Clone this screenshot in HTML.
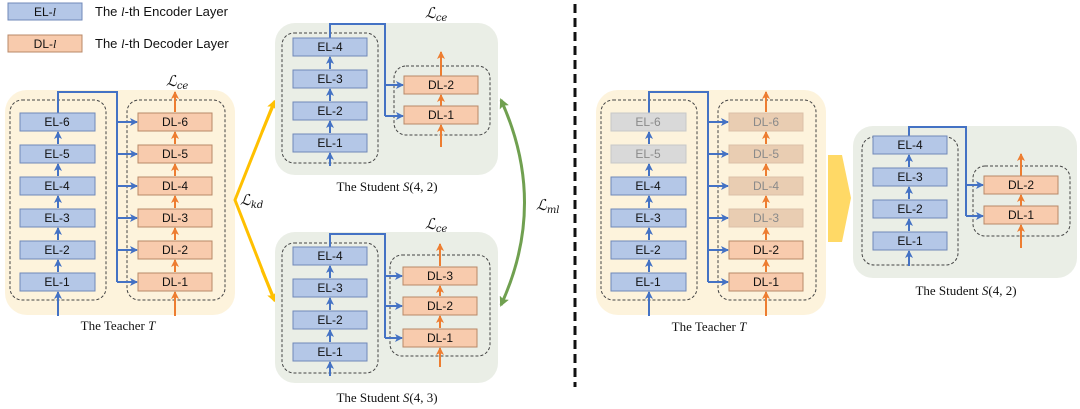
<!DOCTYPE html>
<html><head><meta charset="utf-8"><style>
html,body{margin:0;padding:0;background:#fff;}
svg{display:block}
.el{fill:#b4c7e7;stroke:#7088b8;stroke-width:1}
.dl{fill:#f8cbad;stroke:#b88868;stroke-width:1}
.gr{fill:#d9d9d9;stroke:#c8c8c8;stroke-width:1}
.fd{fill:#e9cdb2;stroke:#dcc0a8;stroke-width:1}
.bt{font-family:"Liberation Sans","DejaVu Sans",sans-serif;font-size:12px;text-anchor:middle;fill:#111}
.ft{fill:#8a8a8a}
.dash{fill:none;stroke:#444;stroke-width:1;stroke-dasharray:3 2}
.bl{stroke:#4472c4;stroke-width:2;fill:none}
.or{stroke:#ed7d31;stroke-width:2;fill:none}
.cap{font-family:"Liberation Serif","DejaVu Serif",serif;font-size:13px;text-anchor:middle;fill:#111}
.L{font-family:"DejaVu Serif","Liberation Serif",serif;font-style:italic;font-size:15px;fill:#111}
.sub{font-size:10px}
</style></head><body>
<svg width="1080" height="409" viewBox="0 0 1080 409" xmlns="http://www.w3.org/2000/svg">
<defs>
<marker id="ab" markerWidth="8" markerHeight="8" refX="7" refY="4" orient="auto" markerUnits="userSpaceOnUse"><path d="M0,0 L8,4 L0,8 L2,4 z" fill="#4472c4"/></marker>
<marker id="ao" markerWidth="8" markerHeight="8" refX="7" refY="4" orient="auto" markerUnits="userSpaceOnUse"><path d="M0,0 L8,4 L0,8 L2,4 z" fill="#ed7d31"/></marker>
<marker id="ay" markerWidth="10" markerHeight="10" refX="8" refY="5" orient="auto" markerUnits="userSpaceOnUse"><path d="M0,0 L10,5 L0,10 L2,5 z" fill="#ffc000"/></marker>
<marker id="ag" markerWidth="10" markerHeight="10" refX="8" refY="5" orient="auto-start-reverse" markerUnits="userSpaceOnUse"><path d="M0,0 L10,5 L0,10 L2,5 z" fill="#70a050"/></marker>
</defs>

<!-- Legend -->
<rect class="el" x="8" y="3" width="74" height="17"/>
<text class="bt" x="45" y="16">EL-<tspan font-style="italic" font-family="Liberation Serif">l</tspan></text>
<text x="95" y="16" font-family="Liberation Sans,sans-serif" font-size="13" fill="#111">The <tspan font-style="italic" font-family="Liberation Serif">l</tspan>-th Encoder Layer</text>
<rect class="dl" x="8" y="35" width="74" height="17"/>
<text class="bt" x="45" y="48">DL-<tspan font-style="italic" font-family="Liberation Serif">l</tspan></text>
<text x="95" y="48" font-family="Liberation Sans,sans-serif" font-size="13" fill="#111">The <tspan font-style="italic" font-family="Liberation Serif">l</tspan>-th Decoder Layer</text>

<!-- Left Teacher -->
<g>
<rect x="5" y="90" width="230" height="225" rx="22" fill="#fdf3dc"/>
<rect class="dash" x="10" y="100" width="96" height="200" rx="12"/>
<rect class="dash" x="127" y="100" width="98" height="200" rx="12"/>
<path class="bl" d="M58 113 V92 H117 V282"/>
<path class="bl" marker-end="url(#ab)" d="M117 122 H137"/><path class="bl" marker-end="url(#ab)" d="M117 154 H137"/><path class="bl" marker-end="url(#ab)" d="M117 186 H137"/><path class="bl" marker-end="url(#ab)" d="M117 218 H137"/><path class="bl" marker-end="url(#ab)" d="M117 250 H137"/><path class="bl" marker-end="url(#ab)" d="M117 282 H137"/>
<path class="bl" marker-end="url(#ab)" d="M58 316 V292"/><path class="bl" marker-end="url(#ab)" d="M58 144 V132"/><path class="bl" marker-end="url(#ab)" d="M58 176 V164"/><path class="bl" marker-end="url(#ab)" d="M58 208 V196"/><path class="bl" marker-end="url(#ab)" d="M58 240 V228"/><path class="bl" marker-end="url(#ab)" d="M58 272 V260"/>
<path class="or" marker-end="url(#ao)" d="M175 316 V292"/><path class="or" marker-end="url(#ao)" d="M175 144 V132"/><path class="or" marker-end="url(#ao)" d="M175 176 V164"/><path class="or" marker-end="url(#ao)" d="M175 208 V196"/><path class="or" marker-end="url(#ao)" d="M175 240 V228"/><path class="or" marker-end="url(#ao)" d="M175 272 V260"/><path class="or" marker-end="url(#ao)" d="M175 112 V92"/>
<rect class="el" x="20" y="113" width="75" height="18"/><text class="bt" x="57" y="126">EL-6</text>
<rect class="el" x="20" y="145" width="75" height="18"/><text class="bt" x="57" y="158">EL-5</text>
<rect class="el" x="20" y="177" width="75" height="18"/><text class="bt" x="57" y="190">EL-4</text>
<rect class="el" x="20" y="209" width="75" height="18"/><text class="bt" x="57" y="222">EL-3</text>
<rect class="el" x="20" y="241" width="75" height="18"/><text class="bt" x="57" y="254">EL-2</text>
<rect class="el" x="20" y="273" width="75" height="18"/><text class="bt" x="57" y="286">EL-1</text>
<rect class="dl" x="138" y="113" width="74" height="18"/><text class="bt" x="175" y="126">DL-6</text>
<rect class="dl" x="138" y="145" width="74" height="18"/><text class="bt" x="175" y="158">DL-5</text>
<rect class="dl" x="138" y="177" width="74" height="18"/><text class="bt" x="175" y="190">DL-4</text>
<rect class="dl" x="138" y="209" width="74" height="18"/><text class="bt" x="175" y="222">DL-3</text>
<rect class="dl" x="138" y="241" width="74" height="18"/><text class="bt" x="175" y="254">DL-2</text>
<rect class="dl" x="138" y="273" width="74" height="18"/><text class="bt" x="175" y="286">DL-1</text>
<text class="L" x="166" y="86">ℒ<tspan class="sub" dy="3">ce</tspan></text>
<text class="cap" x="118" y="330">The Teacher <tspan font-style="italic">T</tspan></text>
</g>

<!-- Yellow arrows -->
<path d="M274 300 L235 200 L274 102" fill="none" stroke="#ffc000" stroke-width="3"/>
<path d="M262 132 L275 101" stroke="#ffc000" stroke-width="3" marker-end="url(#ay)"/>
<path d="M262 270 L275 301" stroke="#ffc000" stroke-width="3" marker-end="url(#ay)"/>
<text class="L" x="240" y="205">ℒ<tspan class="sub" dy="3">kd</tspan></text>

<!-- Student S(4,2) top -->
<g>
<rect x="275" y="23" width="223" height="152" rx="20" fill="#eaeee6"/>
<rect class="dash" x="282" y="33" width="96" height="130" rx="12"/>
<rect class="dash" x="394" y="66" width="96" height="69" rx="12"/>
<path class="bl" d="M330 38 V24 H385 V116"/>
<path class="bl" marker-end="url(#ab)" d="M385 85 H403"/><path class="bl" marker-end="url(#ab)" d="M385 116 H403"/>
<path class="bl" marker-end="url(#ab)" d="M330 166 V153"/><path class="bl" marker-end="url(#ab)" d="M330 133 V121"/><path class="bl" marker-end="url(#ab)" d="M330 101 V89"/><path class="bl" marker-end="url(#ab)" d="M330 69 V57"/>
<path class="or" marker-end="url(#ao)" d="M441 147 V125"/><path class="or" marker-end="url(#ao)" d="M441 106 V95"/><path class="or" marker-end="url(#ao)" d="M441 76 V52"/>
<rect class="el" x="293" y="38" width="74" height="18"/><text class="bt" x="330" y="51">EL-4</text>
<rect class="el" x="293" y="70" width="74" height="18"/><text class="bt" x="330" y="83">EL-3</text>
<rect class="el" x="293" y="102" width="74" height="18"/><text class="bt" x="330" y="115">EL-2</text>
<rect class="el" x="293" y="134" width="74" height="18"/><text class="bt" x="330" y="147">EL-1</text>
<rect class="dl" x="404" y="76" width="74" height="18"/><text class="bt" x="441" y="89">DL-2</text>
<rect class="dl" x="404" y="106" width="74" height="18"/><text class="bt" x="441" y="119">DL-1</text>
<text class="L" x="425" y="18">ℒ<tspan class="sub" dy="3">ce</tspan></text>
<text class="cap" x="387" y="191">The Student <tspan font-style="italic">S</tspan>(4, 2)</text>
</g>

<!-- Student S(4,3) bottom -->
<g>
<rect x="275" y="232" width="223" height="151" rx="20" fill="#eaeee6"/>
<rect class="dash" x="282" y="243" width="96" height="130" rx="12"/>
<rect class="dash" x="390" y="255" width="100" height="101" rx="12"/>
<path class="bl" d="M330 247 V234 H385 V338"/>
<path class="bl" marker-end="url(#ab)" d="M385 276 H402"/><path class="bl" marker-end="url(#ab)" d="M385 306 H402"/><path class="bl" marker-end="url(#ab)" d="M385 338 H402"/>
<path class="bl" marker-end="url(#ab)" d="M330 376 V362"/><path class="bl" marker-end="url(#ab)" d="M330 342 V330"/><path class="bl" marker-end="url(#ab)" d="M330 310 V298"/><path class="bl" marker-end="url(#ab)" d="M330 278 V266"/>
<path class="or" marker-end="url(#ao)" d="M440 367 V348"/><path class="or" marker-end="url(#ao)" d="M440 328 V316"/><path class="or" marker-end="url(#ao)" d="M440 296 V286"/><path class="or" marker-end="url(#ao)" d="M440 266 V244"/>
<rect class="el" x="293" y="247" width="74" height="18"/><text class="bt" x="330" y="260">EL-4</text>
<rect class="el" x="293" y="279" width="74" height="18"/><text class="bt" x="330" y="292">EL-3</text>
<rect class="el" x="293" y="311" width="74" height="18"/><text class="bt" x="330" y="324">EL-2</text>
<rect class="el" x="293" y="343" width="74" height="18"/><text class="bt" x="330" y="356">EL-1</text>
<rect class="dl" x="403" y="267" width="74" height="18"/><text class="bt" x="440" y="280">DL-3</text>
<rect class="dl" x="403" y="297" width="74" height="18"/><text class="bt" x="440" y="310">DL-2</text>
<rect class="dl" x="403" y="329" width="74" height="18"/><text class="bt" x="440" y="342">DL-1</text>
<text class="L" x="425" y="229">ℒ<tspan class="sub" dy="3">ce</tspan></text>
<text class="cap" x="387" y="402">The Student <tspan font-style="italic">S</tspan>(4, 3)</text>
</g>

<!-- Green arc -->
<path d="M501 100 Q548 203 501 305" fill="none" stroke="#70a050" stroke-width="3" marker-start="url(#ag)" marker-end="url(#ag)"/>
<text class="L" x="536" y="210">ℒ<tspan class="sub" dy="3">ml</tspan></text>

<!-- Dashed divider -->
<line x1="575" y1="4" x2="575" y2="387" stroke="#111" stroke-width="3" stroke-dasharray="9 5"/>

<!-- Right Teacher -->
<g transform="translate(591,0)">
<rect x="5" y="90" width="230" height="225" rx="22" fill="#fdf3dc"/>
<rect class="dash" x="10" y="100" width="96" height="200" rx="12"/>
<rect class="dash" x="127" y="100" width="98" height="200" rx="12"/>
<path class="bl" d="M58 113 V92 H117 V282"/>
<path class="bl" marker-end="url(#ab)" d="M117 122 H137"/><path class="bl" marker-end="url(#ab)" d="M117 154 H137"/><path class="bl" marker-end="url(#ab)" d="M117 186 H137"/><path class="bl" marker-end="url(#ab)" d="M117 218 H137"/><path class="bl" marker-end="url(#ab)" d="M117 250 H137"/><path class="bl" marker-end="url(#ab)" d="M117 282 H137"/>
<path class="bl" marker-end="url(#ab)" d="M58 316 V292"/><path class="bl" marker-end="url(#ab)" d="M58 144 V132"/><path class="bl" marker-end="url(#ab)" d="M58 176 V164"/><path class="bl" marker-end="url(#ab)" d="M58 208 V196"/><path class="bl" marker-end="url(#ab)" d="M58 240 V228"/><path class="bl" marker-end="url(#ab)" d="M58 272 V260"/>
<path class="or" marker-end="url(#ao)" d="M175 316 V292"/><path class="or" marker-end="url(#ao)" d="M175 144 V132"/><path class="or" marker-end="url(#ao)" d="M175 176 V164"/><path class="or" marker-end="url(#ao)" d="M175 208 V196"/><path class="or" marker-end="url(#ao)" d="M175 240 V228"/><path class="or" marker-end="url(#ao)" d="M175 272 V260"/><path class="or" marker-end="url(#ao)" d="M175 112 V92"/>
<rect class="gr" x="20" y="113" width="75" height="18"/><text class="bt ft" x="57" y="126">EL-6</text>
<rect class="gr" x="20" y="145" width="75" height="18"/><text class="bt ft" x="57" y="158">EL-5</text>
<rect class="el" x="20" y="177" width="75" height="18"/><text class="bt" x="57" y="190">EL-4</text>
<rect class="el" x="20" y="209" width="75" height="18"/><text class="bt" x="57" y="222">EL-3</text>
<rect class="el" x="20" y="241" width="75" height="18"/><text class="bt" x="57" y="254">EL-2</text>
<rect class="el" x="20" y="273" width="75" height="18"/><text class="bt" x="57" y="286">EL-1</text>
<rect class="fd" x="138" y="113" width="74" height="18"/><text class="bt ft" x="175" y="126">DL-6</text>
<rect class="fd" x="138" y="145" width="74" height="18"/><text class="bt ft" x="175" y="158">DL-5</text>
<rect class="fd" x="138" y="177" width="74" height="18"/><text class="bt ft" x="175" y="190">DL-4</text>
<rect class="fd" x="138" y="209" width="74" height="18"/><text class="bt ft" x="175" y="222">DL-3</text>
<rect class="dl" x="138" y="241" width="74" height="18"/><text class="bt" x="175" y="254">DL-2</text>
<rect class="dl" x="138" y="273" width="74" height="18"/><text class="bt" x="175" y="286">DL-1</text>
<text class="cap" x="118" y="331">The Teacher <tspan font-style="italic">T</tspan></text>
</g>

<!-- Big yellow arrow -->
<path d="M828 155 L842 155 L851 198 L842 242 L828 242 Z" fill="#ffd966"/>

<!-- Right Student -->
<g transform="translate(580,98)">
<rect x="273" y="28" width="224" height="152" rx="20" fill="#eaeee6"/>
<rect class="dash" x="282" y="39" width="96" height="128" rx="12"/>
<rect class="dash" x="393" y="68" width="97" height="70" rx="12"/>
<path class="bl" d="M329 38 V29 H386 V118"/>
<path class="bl" marker-end="url(#ab)" d="M386 87 H403"/><path class="bl" marker-end="url(#ab)" d="M386 118 H403"/>
<path class="bl" marker-end="url(#ab)" d="M329 168 V153"/><path class="bl" marker-end="url(#ab)" d="M329 133 V121"/><path class="bl" marker-end="url(#ab)" d="M329 101 V89"/><path class="bl" marker-end="url(#ab)" d="M329 69 V57"/>
<path class="or" marker-end="url(#ao)" d="M441 150 V127"/><path class="or" marker-end="url(#ao)" d="M441 108 V97"/><path class="or" marker-end="url(#ao)" d="M441 78 V56"/>
<rect class="el" x="293" y="38" width="74" height="18"/><text class="bt" x="330" y="51">EL-4</text>
<rect class="el" x="293" y="70" width="74" height="18"/><text class="bt" x="330" y="83">EL-3</text>
<rect class="el" x="293" y="102" width="74" height="18"/><text class="bt" x="330" y="115">EL-2</text>
<rect class="el" x="293" y="134" width="74" height="18"/><text class="bt" x="330" y="147">EL-1</text>
<rect class="dl" x="404" y="78" width="74" height="18"/><text class="bt" x="441" y="91">DL-2</text>
<rect class="dl" x="404" y="108" width="74" height="18"/><text class="bt" x="441" y="121">DL-1</text>
<text class="cap" x="386" y="197">The Student <tspan font-style="italic">S</tspan>(4, 2)</text>
</g>
</svg>
</body></html>
